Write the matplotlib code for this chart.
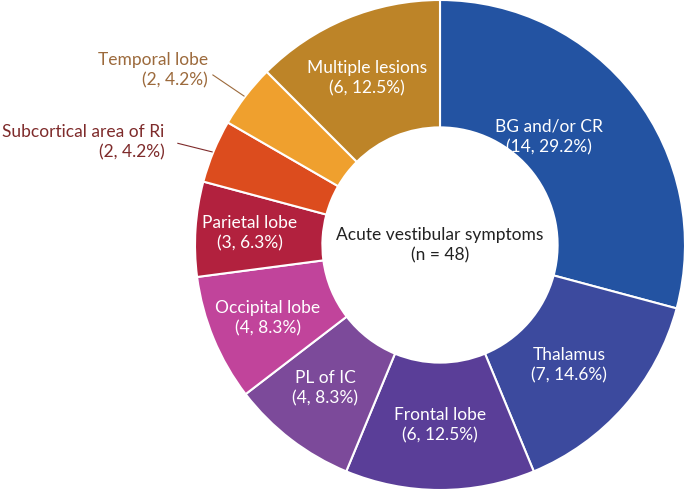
import matplotlib
matplotlib.use("Agg")
import matplotlib.pyplot as plt

# data: clockwise from 12 o'clock
labels = ["BG and/or CR", "Thalamus", "Frontal lobe", "PL of IC", "Occipital lobe",
          "Parietal lobe", "Subcortical area of Ri", "Temporal lobe", "Multiple lesions"]
counts = [14, 7, 6, 4, 4, 3, 2, 2, 6]
percents = ["29.2%", "14.6%", "12.5%", "8.3%", "8.3%", "6.3%", "4.2%", "4.2%", "12.5%"]
colors = ["#2353A2", "#3C4A9E", "#5A3E98", "#7C4A9A", "#C1449B",
          "#B2213E", "#DC4C1E", "#EFA02E", "#BD8428"]

plt.rcParams['font.family'] = ['Lato', 'DejaVu Sans']

fig = plt.figure(figsize=(6.85, 4.9), dpi=100)
ax = fig.add_axes([195 / 685, 0, 490 / 685, 1])

wedges, _ = ax.pie(counts, colors=colors, startangle=90, counterclock=False,
                   radius=1, wedgeprops=dict(width=0.52, edgecolor="white", linewidth=1.5))
ax.set_xlim(-1, 1)
ax.set_ylim(-1, 1)
ax.set_aspect("equal")

fs = 12.5
ls = 1.3
# labels inside the ring
inside = {0: (0.445, 0.441), 1: (0.527, -0.49), 2: (0.0, -0.735), 3: (-0.469, -0.584),
          4: (-0.702, -0.298), 5: (-0.776, 0.049), 8: (-0.298, 0.682)}
for i, (x, y) in inside.items():
    ax.text(x, y, f"{labels[i]}\n({counts[i]}, {percents[i]})", color="white",
            ha="center", va="center", fontsize=fs, linespacing=ls)

# labels outside with leader lines
outside = {6: ((-1.125, 0.42), "#7E2B2B", [(-1.07, 0.415), (-0.93, 0.38)]),
           7: ((-0.947, 0.714), "#9C6A3C", [(-0.927, 0.694), (-0.80, 0.608)])}
for i, ((x, y), c, line) in outside.items():
    ax.text(x, y, f"{labels[i]}\n({counts[i]}, {percents[i]})", color=c,
            ha="right", va="center", fontsize=fs, linespacing=ls, clip_on=False)
    ax.plot([p[0] for p in line], [p[1] for p in line], color=c, lw=0.8, clip_on=False)

ax.text(0, 0, "Acute vestibular symptoms\n(n = 48)", color="#222222",
        ha="center", va="center", fontsize=fs, linespacing=ls)

fig.savefig("out.png", dpi=100)
